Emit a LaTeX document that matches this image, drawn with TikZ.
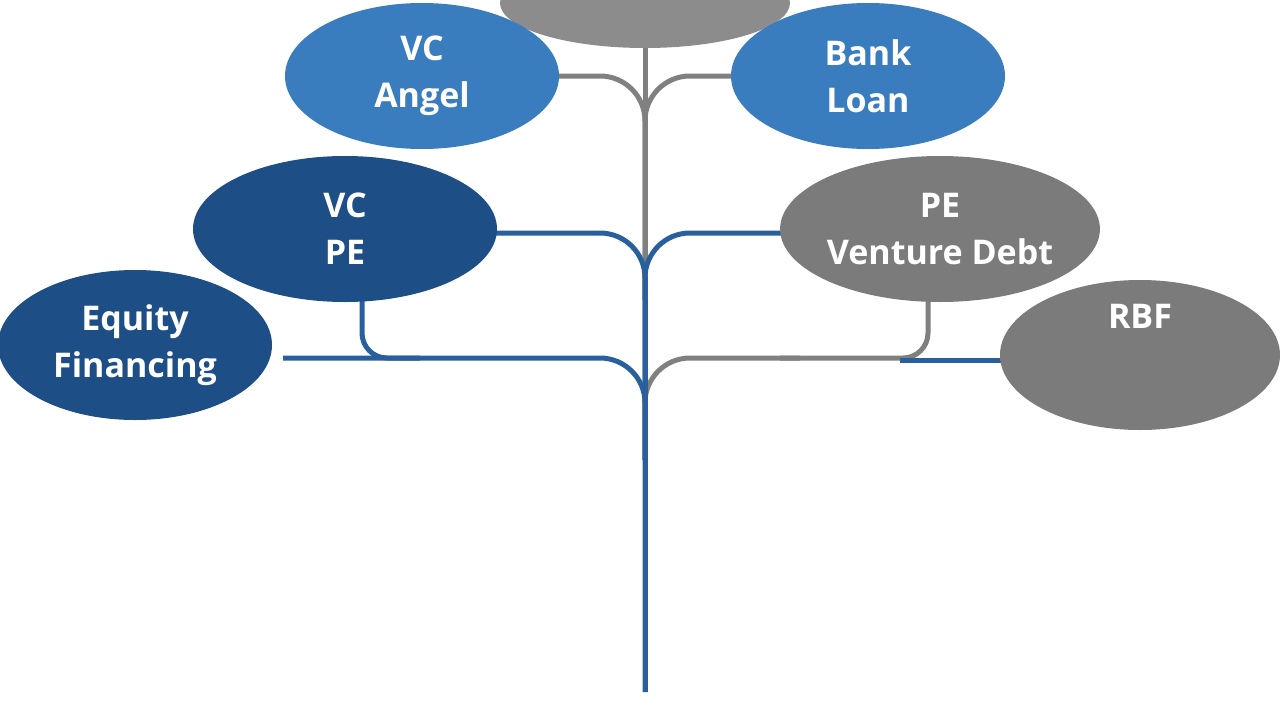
\documentclass[tikz,border=0pt]{standalone}
\usepackage{fontspec}
\setmainfont{Open Sans}
\usetikzlibrary{shapes.geometric}
\definecolor{lblue}{HTML}{3A7DBF}
\definecolor{dblue}{HTML}{1D4E86}
\definecolor{gfill}{HTML}{7B7B7B}
\definecolor{tgray}{HTML}{8C8C8C}
\definecolor{bline}{HTML}{2A5F9E}
\definecolor{gline}{HTML}{808080}
\begin{document}
\begin{tikzpicture}[x=1pt,y=-1pt,
  el/.style={ellipse,draw=none,text=white,align=center,font=\fontsize{34}{47}\selectfont\bfseries,inner sep=0pt},
  bl/.style={draw=bline,line width=5pt,rounded corners=45pt},
  gl/.style={draw=gline,line width=5pt,rounded corners=45pt}]
\useasboundingbox (0,0) rectangle (1280,720);
\begin{scope}
\clip (0,0) rectangle (1280,720);
\node[el,fill=tgray,minimum width=290pt,minimum height=90pt] (top) at (645,3) {};
\end{scope}
% connectors
\coordinate (trunkT) at (645,48);
\coordinate (m1) at (645,300);
\coordinate (m2) at (645,460);
\coordinate (bot) at (645,692);
\draw[gl] (558,76) -- (645,76) -- (m1);
\draw[gl] (735,76) -- (645,76) -- (m1);
\draw[gl] (trunkT) -- (m1);
\draw[bl] (495,233) -- (645,233) -- (m2);
\draw[bl] (790,233) -- (645,233) -- (m2);
\draw[gl,rounded corners=25pt] (928,295) -- (928,358) -- (780,358);
\draw[gl] (800,358) -- (645,358) -- (m2);
\draw[bl] (1005,360) -- (900,360);
\draw[bl] (283,358) -- (645,358) -- (bot);
\draw[bl,rounded corners=25pt] (362,295) -- (362,358) -- (420,358);
\draw[bl] (m1) -- (bot);
% nodes
\node[el,fill=lblue,minimum width=274pt,minimum height=146pt] (vca) at (422,76) {VC\\Angel};
\node[el,fill=lblue,minimum width=274pt,minimum height=146pt] (bank) at (868,76) {Bank\\Loan};
\node[el,fill=dblue,minimum width=304pt,minimum height=146pt] (vcpe) at (345,229) {VC\\PE};
\node[el,fill=gfill,minimum width=304pt,minimum height=146pt] (pevd) at (940,229) {PE\\Venture Debt};
\node[el,fill=dblue,minimum width=274pt,minimum height=150pt] (eq) at (135,345) {Equity\\Financing};
\node[el,fill=gfill,minimum width=280pt,minimum height=150pt] (rbf) at (1140,355) {RBF\\[30pt]};
\end{tikzpicture}
\end{document}
